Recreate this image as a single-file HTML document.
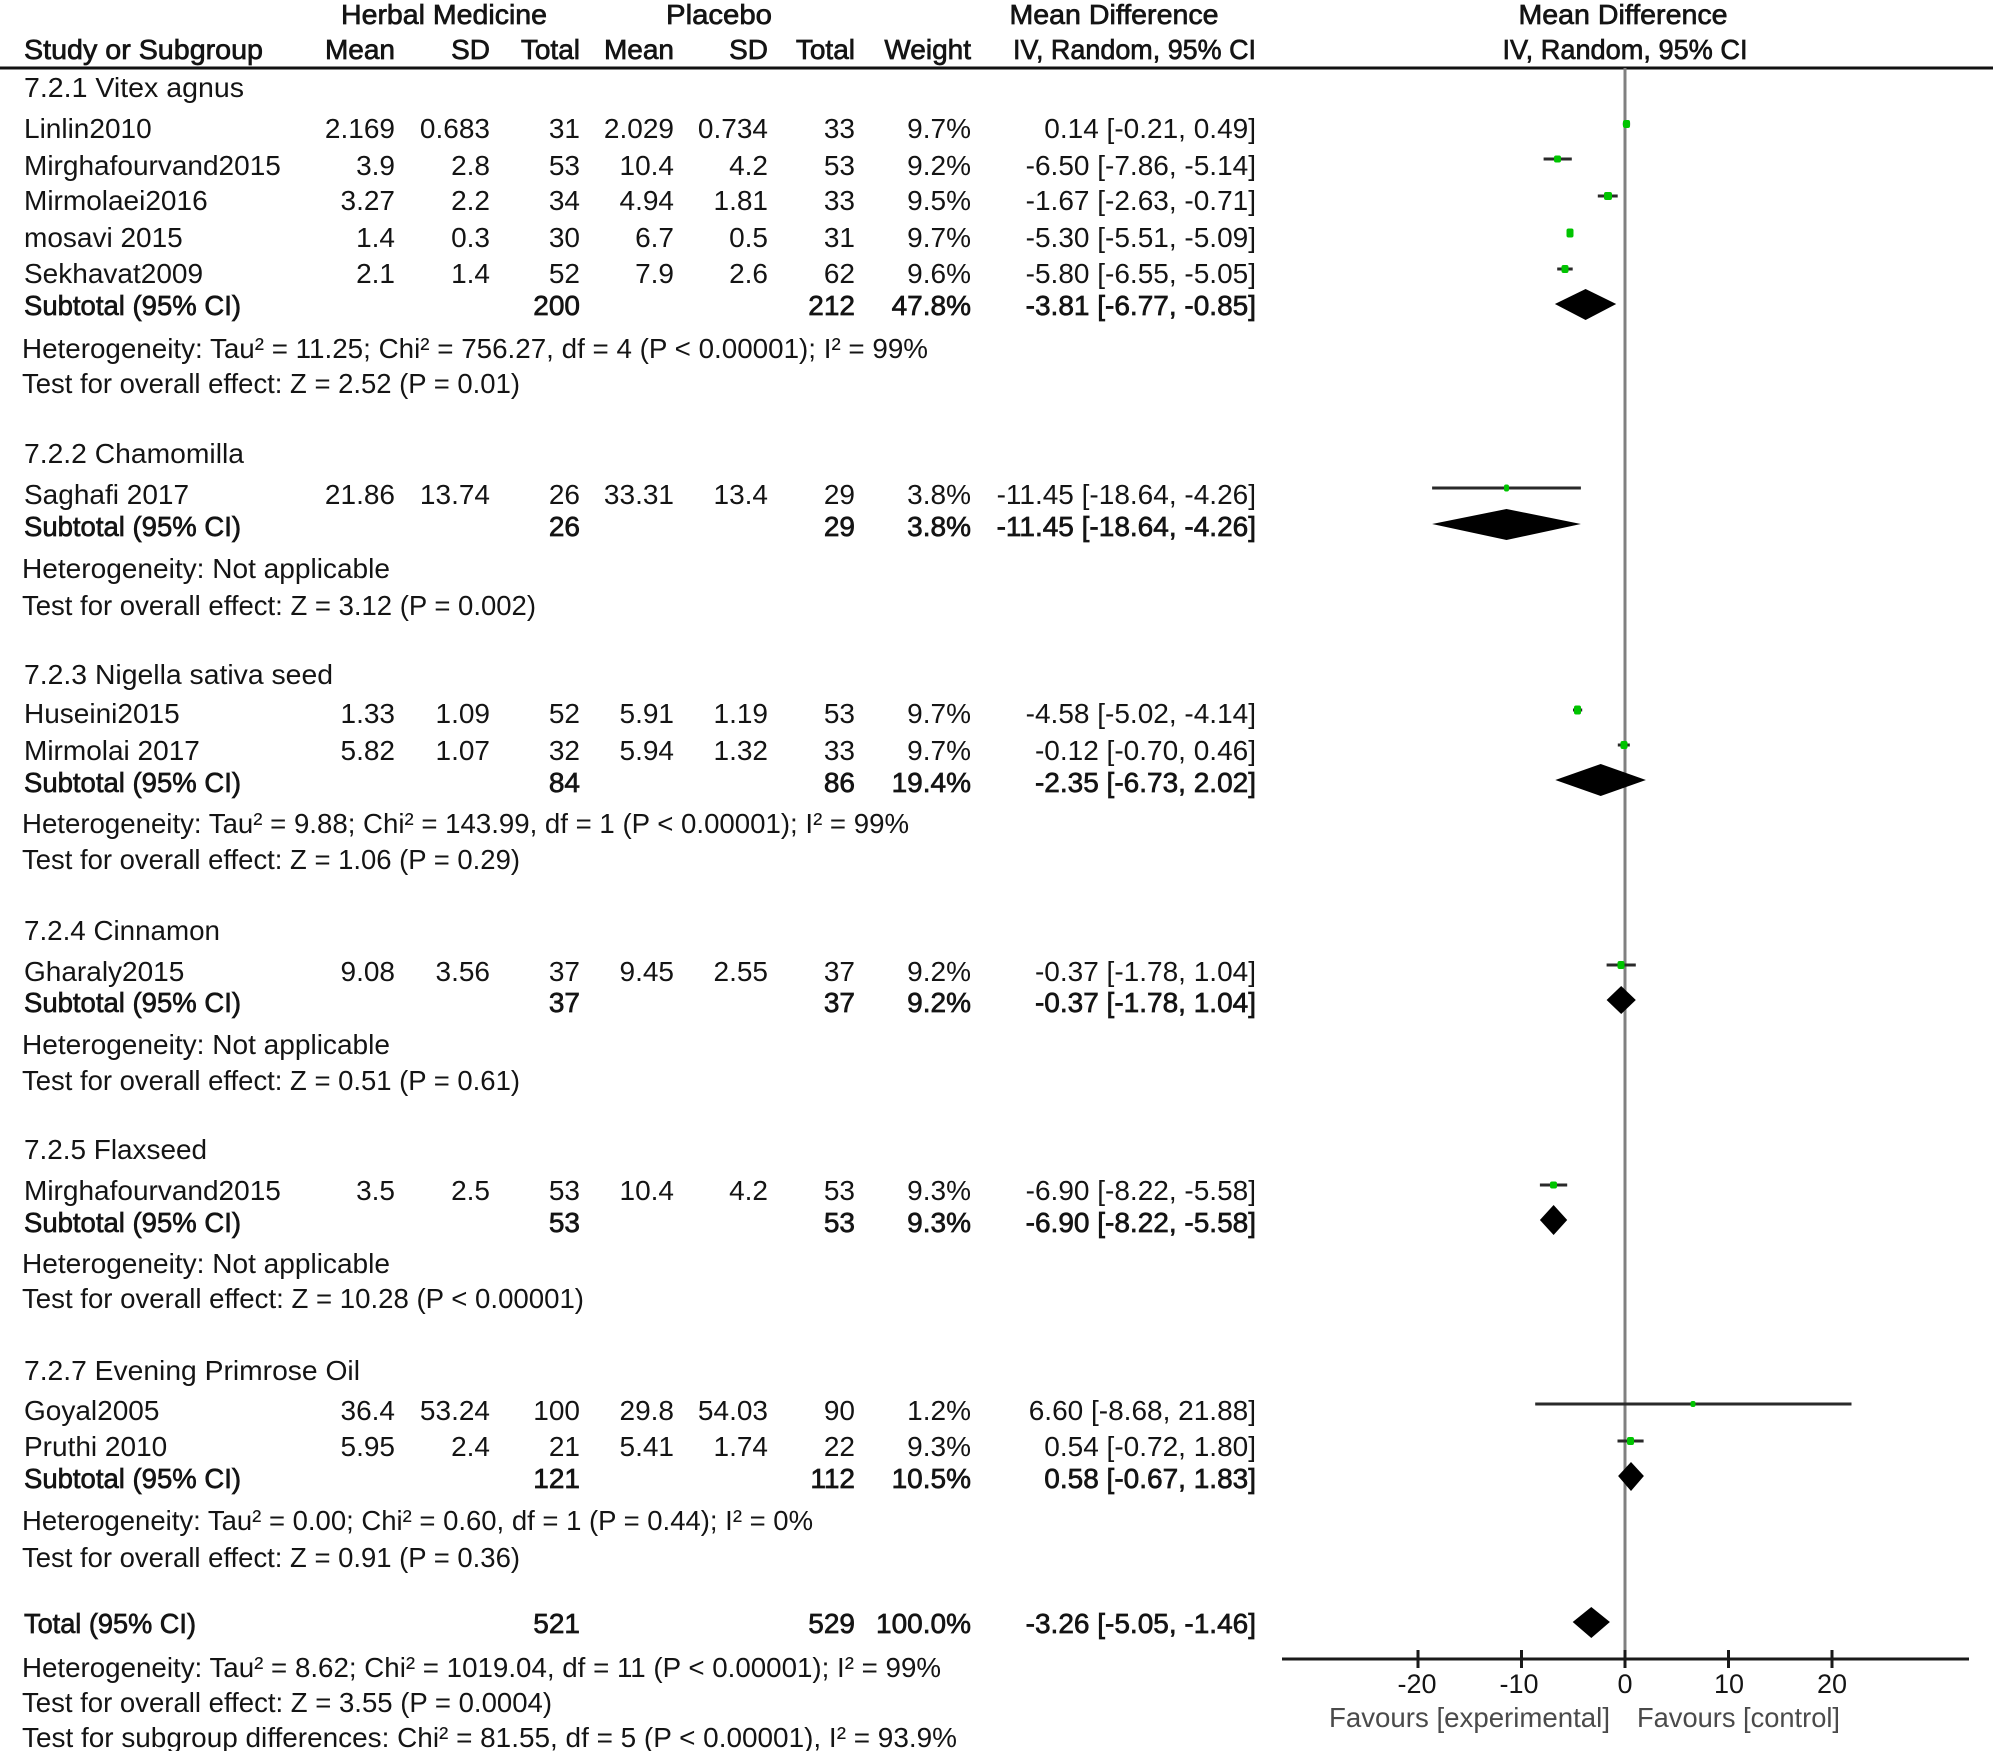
<!DOCTYPE html>
<html>
<head>
<meta charset="utf-8">
<style>
html,body{margin:0;padding:0;background:#fff;}
body{width:1993px;height:1751px;overflow:hidden;}
svg{display:block;}
text{font-family:"Liberation Sans",Arial,sans-serif;font-size:28px;fill:#141414;}
.b{font-weight:normal;stroke:#141414;stroke-width:0.7px;}
.e{text-anchor:end;}
.m{text-anchor:middle;}
.ax{font-size:27px;}
.fav{fill:#4a4a4a;}
</style>
</head>
<body>
<svg width="1993" height="1751" viewBox="0 0 1993 1751" xmlns="http://www.w3.org/2000/svg">
<rect x="0" y="0" width="1993" height="1751" fill="#fff"/>

<!-- Header row 1 -->
<text class="b m" x="444" y="24" textLength="206" lengthAdjust="spacingAndGlyphs">Herbal Medicine</text>
<text class="b m" x="719" y="24" textLength="106" lengthAdjust="spacingAndGlyphs">Placebo</text>
<text class="b m" x="1114" y="24" textLength="209" lengthAdjust="spacingAndGlyphs">Mean Difference</text>
<text class="b m" x="1623" y="24" textLength="209" lengthAdjust="spacingAndGlyphs">Mean Difference</text>

<!-- Header row 2 -->
<text class="b" x="24" y="59" textLength="239" lengthAdjust="spacingAndGlyphs">Study or Subgroup</text>
<text class="b e" x="395" y="59">Mean</text>
<text class="b e" x="490" y="59">SD</text>
<text class="b e" x="580" y="59">Total</text>
<text class="b e" x="674" y="59">Mean</text>
<text class="b e" x="768" y="59">SD</text>
<text class="b e" x="855" y="59">Total</text>
<text class="b e" x="971" y="59">Weight</text>
<text class="b e" x="1256" y="59" textLength="243" lengthAdjust="spacingAndGlyphs">IV, Random, 95% CI</text>
<text class="b m" x="1625" y="59" textLength="245" lengthAdjust="spacingAndGlyphs">IV, Random, 95% CI</text>

<!-- header rule -->
<rect x="0" y="66.5" width="1993" height="3" fill="#111"/>

<!-- zero line -->
<rect x="1623.5" y="68" width="3" height="1592" fill="#808080"/>

<!-- ===== 7.2.1 ===== -->
<text x="24" y="97" textLength="220" lengthAdjust="spacingAndGlyphs">7.2.1 Vitex agnus</text>

<g>
<text x="24" y="138">Linlin2010</text>
<text class="e" x="395" y="138">2.169</text><text class="e" x="490" y="138">0.683</text><text class="e" x="580" y="138">31</text>
<text class="e" x="674" y="138">2.029</text><text class="e" x="768" y="138">0.734</text><text class="e" x="855" y="138">33</text>
<text class="e" x="971" y="138">9.7%</text><text class="e" x="1256" y="138">0.14 [-0.21, 0.49]</text>
</g>
<g>
<text x="24" y="175">Mirghafourvand2015</text>
<text class="e" x="395" y="175">3.9</text><text class="e" x="490" y="175">2.8</text><text class="e" x="580" y="175">53</text>
<text class="e" x="674" y="175">10.4</text><text class="e" x="768" y="175">4.2</text><text class="e" x="855" y="175">53</text>
<text class="e" x="971" y="175">9.2%</text><text class="e" x="1256" y="175">-6.50 [-7.86, -5.14]</text>
</g>
<g>
<text x="24" y="210">Mirmolaei2016</text>
<text class="e" x="395" y="210">3.27</text><text class="e" x="490" y="210">2.2</text><text class="e" x="580" y="210">34</text>
<text class="e" x="674" y="210">4.94</text><text class="e" x="768" y="210">1.81</text><text class="e" x="855" y="210">33</text>
<text class="e" x="971" y="210">9.5%</text><text class="e" x="1256" y="210">-1.67 [-2.63, -0.71]</text>
</g>
<g>
<text x="24" y="247">mosavi 2015</text>
<text class="e" x="395" y="247">1.4</text><text class="e" x="490" y="247">0.3</text><text class="e" x="580" y="247">30</text>
<text class="e" x="674" y="247">6.7</text><text class="e" x="768" y="247">0.5</text><text class="e" x="855" y="247">31</text>
<text class="e" x="971" y="247">9.7%</text><text class="e" x="1256" y="247">-5.30 [-5.51, -5.09]</text>
</g>
<g>
<text x="24" y="283">Sekhavat2009</text>
<text class="e" x="395" y="283">2.1</text><text class="e" x="490" y="283">1.4</text><text class="e" x="580" y="283">52</text>
<text class="e" x="674" y="283">7.9</text><text class="e" x="768" y="283">2.6</text><text class="e" x="855" y="283">62</text>
<text class="e" x="971" y="283">9.6%</text><text class="e" x="1256" y="283">-5.80 [-6.55, -5.05]</text>
</g>
<g>
<text class="b" x="24" y="315" textLength="217" lengthAdjust="spacingAndGlyphs">Subtotal (95% CI)</text>
<text class="b e" x="580" y="315">200</text><text class="b e" x="855" y="315">212</text>
<text class="b e" x="971" y="315">47.8%</text><text class="b e" x="1256" y="315">-3.81 [-6.77, -0.85]</text>
</g>
<text x="22" y="358" textLength="906" lengthAdjust="spacingAndGlyphs">Heterogeneity: Tau² = 11.25; Chi² = 756.27, df = 4 (P &lt; 0.00001); I² = 99%</text>
<text x="22" y="393" textLength="498" lengthAdjust="spacingAndGlyphs">Test for overall effect: Z = 2.52 (P = 0.01)</text>

<!-- ===== 7.2.2 ===== -->
<text x="24" y="463" textLength="220" lengthAdjust="spacingAndGlyphs">7.2.2 Chamomilla</text>
<g>
<text x="24" y="504">Saghafi 2017</text>
<text class="e" x="395" y="504">21.86</text><text class="e" x="490" y="504">13.74</text><text class="e" x="580" y="504">26</text>
<text class="e" x="674" y="504">33.31</text><text class="e" x="768" y="504">13.4</text><text class="e" x="855" y="504">29</text>
<text class="e" x="971" y="504">3.8%</text><text class="e" x="1256" y="504">-11.45 [-18.64, -4.26]</text>
</g>
<g>
<text class="b" x="24" y="536" textLength="217" lengthAdjust="spacingAndGlyphs">Subtotal (95% CI)</text>
<text class="b e" x="580" y="536">26</text><text class="b e" x="855" y="536">29</text>
<text class="b e" x="971" y="536">3.8%</text><text class="b e" x="1256" y="536">-11.45 [-18.64, -4.26]</text>
</g>
<text x="22" y="578" textLength="368" lengthAdjust="spacingAndGlyphs">Heterogeneity: Not applicable</text>
<text x="22" y="615" textLength="514" lengthAdjust="spacingAndGlyphs">Test for overall effect: Z = 3.12 (P = 0.002)</text>

<!-- ===== 7.2.3 ===== -->
<text x="24" y="684" textLength="309" lengthAdjust="spacingAndGlyphs">7.2.3 Nigella sativa seed</text>
<g>
<text x="24" y="723">Huseini2015</text>
<text class="e" x="395" y="723">1.33</text><text class="e" x="490" y="723">1.09</text><text class="e" x="580" y="723">52</text>
<text class="e" x="674" y="723">5.91</text><text class="e" x="768" y="723">1.19</text><text class="e" x="855" y="723">53</text>
<text class="e" x="971" y="723">9.7%</text><text class="e" x="1256" y="723">-4.58 [-5.02, -4.14]</text>
</g>
<g>
<text x="24" y="760">Mirmolai 2017</text>
<text class="e" x="395" y="760">5.82</text><text class="e" x="490" y="760">1.07</text><text class="e" x="580" y="760">32</text>
<text class="e" x="674" y="760">5.94</text><text class="e" x="768" y="760">1.32</text><text class="e" x="855" y="760">33</text>
<text class="e" x="971" y="760">9.7%</text><text class="e" x="1256" y="760">-0.12 [-0.70, 0.46]</text>
</g>
<g>
<text class="b" x="24" y="792" textLength="217" lengthAdjust="spacingAndGlyphs">Subtotal (95% CI)</text>
<text class="b e" x="580" y="792">84</text><text class="b e" x="855" y="792">86</text>
<text class="b e" x="971" y="792">19.4%</text><text class="b e" x="1256" y="792">-2.35 [-6.73, 2.02]</text>
</g>
<text x="22" y="833" textLength="887" lengthAdjust="spacingAndGlyphs">Heterogeneity: Tau² = 9.88; Chi² = 143.99, df = 1 (P &lt; 0.00001); I² = 99%</text>
<text x="22" y="869" textLength="498" lengthAdjust="spacingAndGlyphs">Test for overall effect: Z = 1.06 (P = 0.29)</text>

<!-- ===== 7.2.4 ===== -->
<text x="24" y="940" textLength="196" lengthAdjust="spacingAndGlyphs">7.2.4 Cinnamon</text>
<g>
<text x="24" y="981">Gharaly2015</text>
<text class="e" x="395" y="981">9.08</text><text class="e" x="490" y="981">3.56</text><text class="e" x="580" y="981">37</text>
<text class="e" x="674" y="981">9.45</text><text class="e" x="768" y="981">2.55</text><text class="e" x="855" y="981">37</text>
<text class="e" x="971" y="981">9.2%</text><text class="e" x="1256" y="981">-0.37 [-1.78, 1.04]</text>
</g>
<g>
<text class="b" x="24" y="1012" textLength="217" lengthAdjust="spacingAndGlyphs">Subtotal (95% CI)</text>
<text class="b e" x="580" y="1012">37</text><text class="b e" x="855" y="1012">37</text>
<text class="b e" x="971" y="1012">9.2%</text><text class="b e" x="1256" y="1012">-0.37 [-1.78, 1.04]</text>
</g>
<text x="22" y="1054" textLength="368" lengthAdjust="spacingAndGlyphs">Heterogeneity: Not applicable</text>
<text x="22" y="1090" textLength="498" lengthAdjust="spacingAndGlyphs">Test for overall effect: Z = 0.51 (P = 0.61)</text>

<!-- ===== 7.2.5 ===== -->
<text x="24" y="1159" textLength="183" lengthAdjust="spacingAndGlyphs">7.2.5 Flaxseed</text>
<g>
<text x="24" y="1200">Mirghafourvand2015</text>
<text class="e" x="395" y="1200">3.5</text><text class="e" x="490" y="1200">2.5</text><text class="e" x="580" y="1200">53</text>
<text class="e" x="674" y="1200">10.4</text><text class="e" x="768" y="1200">4.2</text><text class="e" x="855" y="1200">53</text>
<text class="e" x="971" y="1200">9.3%</text><text class="e" x="1256" y="1200">-6.90 [-8.22, -5.58]</text>
</g>
<g>
<text class="b" x="24" y="1232" textLength="217" lengthAdjust="spacingAndGlyphs">Subtotal (95% CI)</text>
<text class="b e" x="580" y="1232">53</text><text class="b e" x="855" y="1232">53</text>
<text class="b e" x="971" y="1232">9.3%</text><text class="b e" x="1256" y="1232">-6.90 [-8.22, -5.58]</text>
</g>
<text x="22" y="1273" textLength="368" lengthAdjust="spacingAndGlyphs">Heterogeneity: Not applicable</text>
<text x="22" y="1308" textLength="562" lengthAdjust="spacingAndGlyphs">Test for overall effect: Z = 10.28 (P &lt; 0.00001)</text>

<!-- ===== 7.2.7 ===== -->
<text x="24" y="1380" textLength="336" lengthAdjust="spacingAndGlyphs">7.2.7 Evening Primrose Oil</text>
<g>
<text x="24" y="1420">Goyal2005</text>
<text class="e" x="395" y="1420">36.4</text><text class="e" x="490" y="1420">53.24</text><text class="e" x="580" y="1420">100</text>
<text class="e" x="674" y="1420">29.8</text><text class="e" x="768" y="1420">54.03</text><text class="e" x="855" y="1420">90</text>
<text class="e" x="971" y="1420">1.2%</text><text class="e" x="1256" y="1420">6.60 [-8.68, 21.88]</text>
</g>
<g>
<text x="24" y="1456">Pruthi 2010</text>
<text class="e" x="395" y="1456">5.95</text><text class="e" x="490" y="1456">2.4</text><text class="e" x="580" y="1456">21</text>
<text class="e" x="674" y="1456">5.41</text><text class="e" x="768" y="1456">1.74</text><text class="e" x="855" y="1456">22</text>
<text class="e" x="971" y="1456">9.3%</text><text class="e" x="1256" y="1456">0.54 [-0.72, 1.80]</text>
</g>
<g>
<text class="b" x="24" y="1488" textLength="217" lengthAdjust="spacingAndGlyphs">Subtotal (95% CI)</text>
<text class="b e" x="580" y="1488">121</text><text class="b e" x="855" y="1488">112</text>
<text class="b e" x="971" y="1488">10.5%</text><text class="b e" x="1256" y="1488">0.58 [-0.67, 1.83]</text>
</g>
<text x="22" y="1530" textLength="791" lengthAdjust="spacingAndGlyphs">Heterogeneity: Tau² = 0.00; Chi² = 0.60, df = 1 (P = 0.44); I² = 0%</text>
<text x="22" y="1567" textLength="498" lengthAdjust="spacingAndGlyphs">Test for overall effect: Z = 0.91 (P = 0.36)</text>

<!-- ===== Total ===== -->
<g>
<text class="b" x="24" y="1633" textLength="172" lengthAdjust="spacingAndGlyphs">Total (95% CI)</text>
<text class="b e" x="580" y="1633">521</text><text class="b e" x="855" y="1633">529</text>
<text class="b e" x="971" y="1633">100.0%</text><text class="b e" x="1256" y="1633">-3.26 [-5.05, -1.46]</text>
</g>
<text x="22" y="1677" textLength="919" lengthAdjust="spacingAndGlyphs">Heterogeneity: Tau² = 8.62; Chi² = 1019.04, df = 11 (P &lt; 0.00001); I² = 99%</text>
<text x="22" y="1712" textLength="530" lengthAdjust="spacingAndGlyphs">Test for overall effect: Z = 3.55 (P = 0.0004)</text>
<text x="22" y="1747" textLength="935" lengthAdjust="spacingAndGlyphs">Test for subgroup differences: Chi² = 81.55, df = 5 (P &lt; 0.00001), I² = 93.9%</text>

<!-- ===== Plot: study CIs ===== -->
<g stroke="#2a2a2a" stroke-width="3" fill="none">
  <line x1="1622.8" y1="124" x2="1630.1" y2="124"/>
  <line x1="1543.6" y1="159" x2="1571.8" y2="159"/>
  <line x1="1597.8" y1="196" x2="1617.7" y2="196"/>
  <line x1="1568" y1="233" x2="1572.3" y2="233"/>
  <line x1="1557.2" y1="269" x2="1572.7" y2="269"/>
  <line x1="1432.1" y1="488" x2="1580.9" y2="488"/>
  <line x1="1573" y1="710" x2="1582.2" y2="710"/>
  <line x1="1617.8" y1="745" x2="1629.8" y2="745"/>
  <line x1="1606.6" y1="965" x2="1635.8" y2="965"/>
  <line x1="1539.9" y1="1185" x2="1567.2" y2="1185"/>
  <line x1="1535.2" y1="1404" x2="1851.5" y2="1404"/>
  <line x1="1617.5" y1="1441" x2="1643.6" y2="1441"/>
</g>
<!-- markers -->
<g fill="#00c400">
  <rect x="1623" y="120" width="7" height="8" rx="2"/>
  <rect x="1554" y="155.5" width="7" height="7" rx="2"/>
  <rect x="1604" y="192" width="8" height="8" rx="2"/>
  <rect x="1566.5" y="228.5" width="7" height="9" rx="2"/>
  <rect x="1561.5" y="265" width="7" height="8" rx="2"/>
  <rect x="1504" y="484.5" width="5" height="7" rx="2"/>
  <rect x="1574" y="705.5" width="7" height="9" rx="2"/>
  <rect x="1620.5" y="741" width="7" height="8" rx="2"/>
  <rect x="1617.5" y="961" width="7" height="8" rx="2"/>
  <rect x="1550" y="1181.5" width="7" height="7" rx="2"/>
  <rect x="1690.5" y="1401" width="5" height="6" rx="2"/>
  <rect x="1627" y="1437" width="7" height="8" rx="2"/>
</g>

<!-- diamonds -->
<g fill="#000">
  <polygon points="1554.9,304 1585.6,289 1616.2,304 1585.6,320"/>
  <polygon points="1432.1,524 1506.5,509 1580.9,524 1506.5,540"/>
  <polygon points="1555.3,780 1600.7,764 1645.9,780 1600.7,796"/>
  <polygon points="1606.6,1000 1621.2,986 1635.8,1000 1621.2,1014"/>
  <polygon points="1539.9,1220 1553.6,1205 1567.2,1220 1553.6,1235"/>
  <polygon points="1618.1,1476 1631,1462 1643.9,1476 1631,1491"/>
  <polygon points="1572.7,1622 1591.3,1607 1609.9,1622 1591.3,1638"/>
</g>

<!-- axis -->
<rect x="1282" y="1657.5" width="687" height="3" fill="#1a1a1a"/>
<g stroke="#1a1a1a" stroke-width="3">
  <line x1="1418" y1="1650" x2="1418" y2="1668"/>
  <line x1="1521.5" y1="1650" x2="1521.5" y2="1668"/>
  <line x1="1625" y1="1650" x2="1625" y2="1668"/>
  <line x1="1728.5" y1="1650" x2="1728.5" y2="1668"/>
  <line x1="1832" y1="1650" x2="1832" y2="1668"/>
</g>
<text class="ax m" x="1417" y="1693">-20</text>
<text class="ax m" x="1519" y="1693">-10</text>
<text class="ax m" x="1625" y="1693">0</text>
<text class="ax m" x="1729" y="1693">10</text>
<text class="ax m" x="1832" y="1693">20</text>
<text class="fav" x="1329" y="1727" textLength="281" lengthAdjust="spacingAndGlyphs">Favours [experimental]</text>
<text class="fav" x="1637" y="1727" textLength="203" lengthAdjust="spacingAndGlyphs">Favours [control]</text>
</svg>
</body>
</html>
